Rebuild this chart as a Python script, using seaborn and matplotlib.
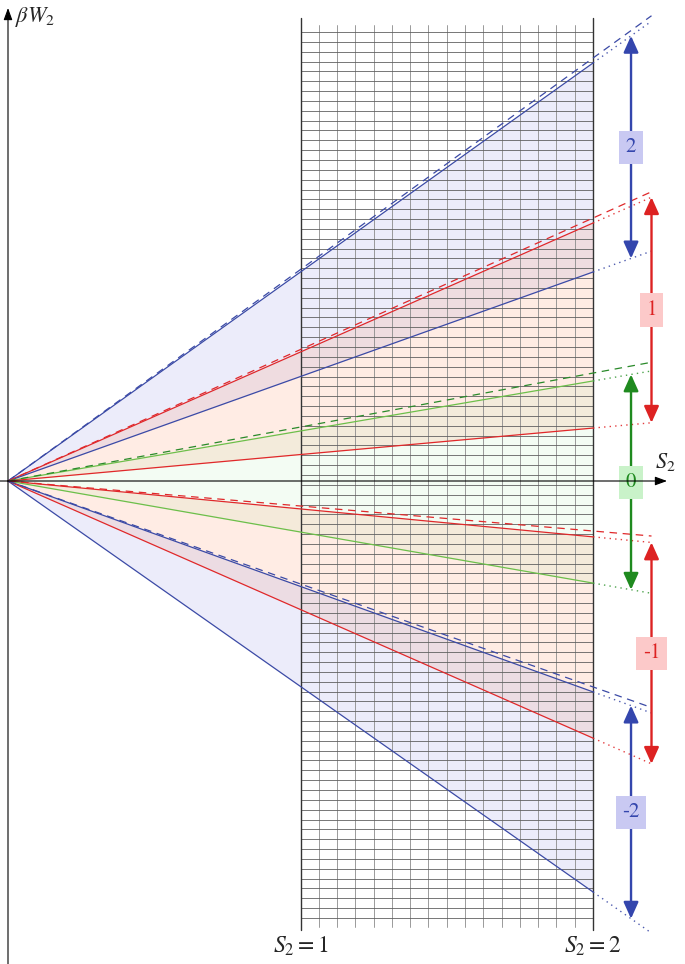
import numpy as np
import pandas as pd
import matplotlib
matplotlib.use("Agg")
import matplotlib.pyplot as plt
import seaborn as sns
from matplotlib.patches import FancyArrowPatch

# ---------------- data (βW2 values read at S2 = 2) ----------------
charges = [2, 1, 0, -1, -2]
upper_solid = [1.429, 0.882, 0.342, -0.191, -0.721]
lower_solid = [0.7145, 0.181, -0.349, -0.879, -1.405]
upper_dashed = [1.446, 0.899, 0.369, -0.171, -0.704]
charge_labels = ["2", "1", "0", "-1", "-2"]
arrow_s2 = [2.13, 2.2, 2.13, 2.2, 2.13]
s2_end = 2.0
s2_ext = 2.2

line_colors = {2: "#3b4aa6", 1: "#e0282a", 0: "#6cbf4a", -1: "#e0282a", -2: "#3b4aa6"}
dash_colors = {2: "#3b4aa6", 1: "#e0282a", 0: "#2a8a2a", -1: "#e0282a", -2: "#3b4aa6"}
arrow_colors = {2: "#3446ad", 1: "#dd2222", 0: "#1f8a1f", -1: "#dd2222", -2: "#3446ad"}
fill_colors = {2: (0.45, 0.45, 0.88), 1: (1.0, 0.55, 0.35), 0: (0.55, 0.92, 0.55),
               -1: (1.0, 0.55, 0.35), -2: (0.45, 0.45, 0.88)}
fill_alpha = {2: 0.13, 1: 0.16, 0: 0.10, -1: 0.16, -2: 0.13}
box_colors = {2: "#c9c9f2", 1: "#fcc9c9", 0: "#c9f2c9", -1: "#fcc9c9", -2: "#c9c9f2"}

sns.set_theme(style="white")
plt.rcParams["font.family"] = ["STIXGeneral", "DejaVu Serif"]
plt.rcParams["mathtext.fontset"] = "stix"

W, H = 685, 964
fig = plt.figure(figsize=(W / 100, H / 100), dpi=100)
ax = fig.add_axes([0, 0, 1, 1])
sc = 292.5
ax.set_xlim(-8 / sc, (W - 8) / sc)
ax.set_ylim(-(H - 481) / sc, 481 / sc)
ax.axis("off")

# ---------------- fills ----------------
for q, u, l in zip(charges, upper_solid, lower_solid):
    ax.fill_between([0, s2_end], [0, l], [0, u], color=fill_colors[q],
                    alpha=fill_alpha[q], lw=0, zorder=1)

# ---------------- grid ----------------
gx = 1 + np.arange(1, 16) / 16
for x in gx:
    ax.plot([x, x], [(481 - 927) / sc, (481 - 25) / sc], color="#8a8a8a", lw=0.6, zorder=2)
gy = np.linspace((481 - 32) / sc, (481 - 918) / sc, 91)
for y in gy:
    ax.plot([1, 2], [y, y], color="#606060", lw=0.6, zorder=2)
for x in [1, 2]:
    ax.plot([x, x], [(481 - 930) / sc, (481 - 18) / sc], color="#333333", lw=1.0, zorder=3)

# ---------------- lines ----------------
rows = []
for q, u in zip(charges, upper_solid):
    rows.append(dict(q=q, S2=0.0, W=0.0))
    rows.append(dict(q=q, S2=s2_end, W=u))
for q, l in zip(charges, lower_solid):
    rows.append(dict(q=q + 10, S2=0.0, W=0.0))
    rows.append(dict(q=q + 10, S2=s2_end, W=l))
df = pd.DataFrame(rows)
for key, g in df.groupby("q"):
    q = key if key < 5 else key - 10
    sns.lineplot(data=g, x="S2", y="W", ax=ax, color=line_colors[q], lw=0.9,
                 estimator=None, sort=False, zorder=5, legend=False)

for q, u, l, d in zip(charges, upper_solid, lower_solid, upper_dashed):
    f = s2_ext / s2_end
    # dotted extensions
    for v in (u, l):
        ax.plot([s2_end, s2_ext], [v, v * f], color=line_colors[q] if q != 0 else "#3a9a3a",
                lw=1.0, ls=(0, (1, 3)), zorder=5, alpha=0.9)
    # dashed
    ax.plot([0, s2_ext], [0, d * f], color=dash_colors[q], lw=0.9,
            ls=(0, (6, 4.5)), zorder=5)

# ---------------- arrows and labels ----------------
for q, u, l, xa, lab in zip(charges, upper_solid, lower_solid, arrow_s2, charge_labels):
    yt = u * xa / s2_end
    yb = l * xa / s2_end
    arr = FancyArrowPatch((xa, yb), (xa, yt),
                          arrowstyle="<|-|>,head_length=10,head_width=4.5",
                          color=arrow_colors[q], lw=1.7, zorder=6,
                          shrinkA=0, shrinkB=0, mutation_scale=1)
    ax.add_patch(arr)
    ax.text(xa, (yt + yb) / 2, lab, ha="center", va="center", fontsize=15,
            color=arrow_colors[q], zorder=7,
            bbox=dict(boxstyle="square,pad=0.32", fc=box_colors[q], ec="none"))

# ---------------- axes ----------------
ax.annotate("", xy=(0, 473 / sc), xytext=(0, -(H - 481) / sc),
            arrowprops=dict(arrowstyle="-|>,head_length=0.6,head_width=0.22",
                            color="black", lw=0.8, shrinkA=0, shrinkB=0), zorder=8)
ax.annotate("", xy=((667 - 8) / sc, 0), xytext=(-8 / sc, 0),
            arrowprops=dict(arrowstyle="-|>,head_length=0.6,head_width=0.22",
                            color="black", lw=0.8, shrinkA=0, shrinkB=0), zorder=8)
ax.text((15 - 8) / sc, (481 - 17) / sc, r"$\beta W_2$", fontsize=16, ha="left", va="center")
ax.text((655 - 8) / sc, (481 - 462) / sc, r"$S_2$", fontsize=16, ha="left", va="center")
ax.text(1, (481 - 946) / sc, r"$S_2 = 1$", fontsize=17, ha="center", va="center")
ax.text(2, (481 - 946) / sc, r"$S_2 = 2$", fontsize=17, ha="center", va="center")

fig.savefig("out.png", dpi=100)
